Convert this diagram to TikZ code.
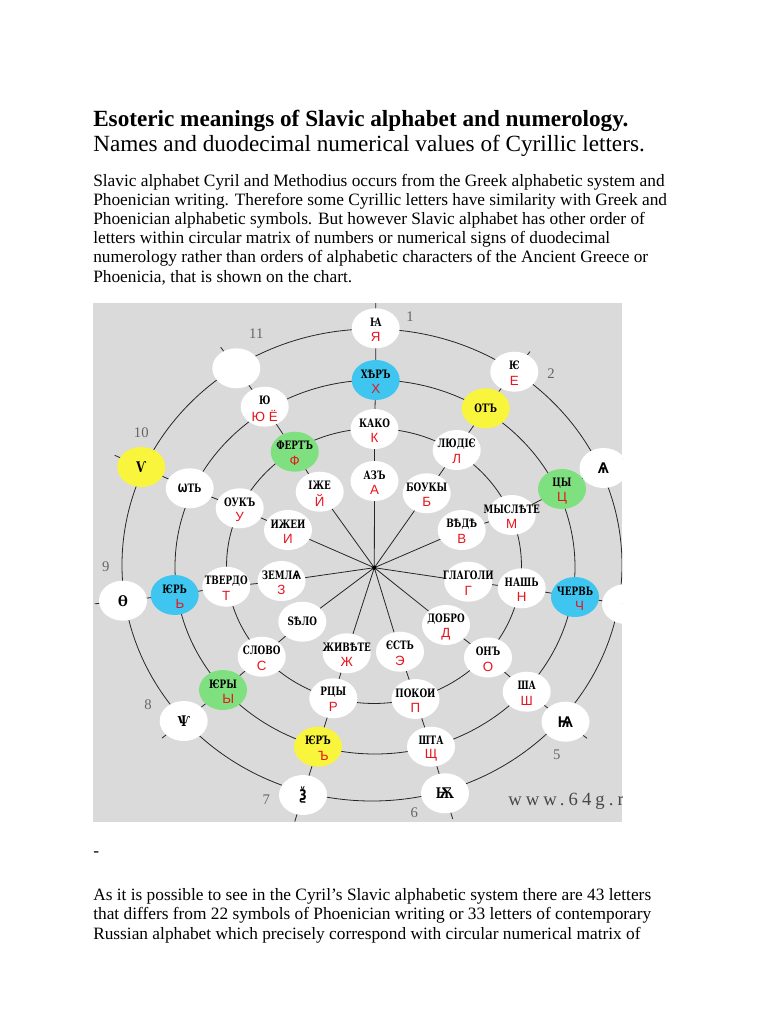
\documentclass[tikz,border=0pt]{standalone}
\usepackage{fontspec}
\setmainfont{Liberation Serif}
\newfontfamily\slavfont[FakeStretch=0.76]{DejaVu Serif}
\newfontfamily\slavsans[FakeStretch=0.76]{DejaVu Sans}
\newfontfamily\redfont{Liberation Sans}
\newfontfamily\wwwfont[LetterSpace=22]{Liberation Serif}
\newcommand\sansglyph[1]{{\slavsans\bfseries #1}}
\usetikzlibrary{calc,shapes.geometric}
\definecolor{chartbg}{HTML}{DADADA}
\definecolor{nblue}{HTML}{3EC6F0}
\definecolor{ngreen}{HTML}{7FE07F}
\definecolor{nyellow}{HTML}{F9F53C}
\definecolor{lred}{HTML}{E8141C}
\definecolor{numgray}{HTML}{666666}
\pgfdeclarelayer{bgl}
\pgfdeclarelayer{lines}
\pgfsetlayers{bgl,lines,main}
\tikzset{
  lnode/.style={ellipse, minimum width=36pt, minimum height=30pt, inner sep=0pt, fill=white},
  wn/.style={fill=white},
  bn/.style={fill=nblue},
  gn/.style={fill=ngreen},
  yn/.style={fill=nyellow},
  toptext/.style={inner sep=0pt, font=\slavfont\bfseries\fontsize{8.7}{9}\selectfont},
  bigglyph/.style={inner sep=0pt, font=\slavfont\bfseries\fontsize{11}{12}\selectfont},
  redtext/.style={inner sep=0pt, text=lred, font=\redfont\fontsize{10}{11}\selectfont},
  numlabel/.style={inner sep=0pt, text=numgray, font=\fontsize{11}{12}\selectfont},
  ln/.style={line width=0.6pt, black!85},
  bodytext/.style={anchor=base west, inner sep=0pt, font=\fontsize{13}{15}\selectfont},
  titletext/.style={anchor=base west, inner sep=0pt, font=\fontsize{17.4}{21}\selectfont},
}
\newcommand\LN[6][0pt]{%
  \node[lnode,#4] (#2) at (#3) {};
  \node[toptext] (#2-t) at ([yshift=4.5pt]#2.center) {#5};
  \node[redtext] (#2-r) at ([yshift=-6.75pt,xshift=#1]#2.center) {#6};}
\newcommand\SN[4]{%
  \node[lnode,#3] (#1) at (#2) {};
  \node[toptext] (#1-t) at (#1.center) {#4};}
\newcommand\GN[4]{%
  \node[lnode,#3] (#1) at (#2) {};
  \node[bigglyph] (#1-t) at (#1.center) {#4};}
\newcommand\chain[4]{\draw[ln] (#1.center) -- (#2.center) -- (#3.center) -- (#4.center) -- ($(#4.center)!-0.55!(#3.center)$);}
\begin{document}
\begin{tikzpicture}[x=0.75pt,y=-0.75pt]
\begin{pgfonlayer}{bgl}
  \fill[white] (0,0) rectangle (768,1024);
  \fill[chartbg] (93,303) rectangle (622,822);
\end{pgfonlayer}
\useasboundingbox (0,0) rectangle (768,1024);

% header text
\node[titletext, font=\bfseries\fontsize{17.4}{21}\selectfont] (title1) at (93,127) {Esoteric meanings of Slavic alphabet and numerology.};
\node[titletext] (title2) at (93,151) {Names and duodecimal numerical values of Cyrillic letters.};
\node[bodytext] (p1) at (93,186) {Slavic alphabet Cyril and Methodius occurs from the Greek alphabetic system and};
\node[bodytext] (p2) at (93,205.2) {Phoenician writing. Therefore some Cyrillic letters have similarity with Greek and};
\node[bodytext] (p3) at (93,224.4) {Phoenician alphabetic symbols. But however Slavic alphabet has other order of};
\node[bodytext] (p4) at (93,243.6) {letters within circular matrix of numbers or numerical signs of duodecimal};
\node[bodytext] (p5) at (93,262.8) {numerology rather than orders of alphabetic characters of the Ancient Greece or};
\node[bodytext] (p6) at (93,282) {Phoenicia, that is shown on the chart.};

% footer text
\node[bodytext] (dash) at (93,856) {-};
\node[bodytext] (q1) at (93,900) {As it is possible to see in the Cyril's Slavic alphabetic system there are 43 letters};
\node[bodytext] (q2) at (93,919.5) {that differs from 22 symbols of Phoenician writing or 33 letters of contemporary};
\node[bodytext] (q3) at (93,939) {Russian alphabet which precisely correspond with circular numerical matrix of};

\begin{scope}
\clip (93,303) rectangle (622,822);
\node[circle, fill=black, inner sep=0pt, minimum size=3.2pt] (cdot) at (374.3,567.7) {};
% ring 1
\LN{nA}{374.5,481}{wn}{АЗЪ}{А}
\LN{nB}{426.7,493.3}{wn}{БОУКЫ}{Б}
\LN{nV}{461.7,530}{wn}{ВѢДѢ}{В}
\LN{nG}{468.3,581.7}{wn}{ГЛАГОЛИ}{Г}
\LN{nD}{446,625}{wn}{ДОБРО}{Д}
\LN{nEe}{400,651.7}{wn}{ЄСТЬ}{Э}
\LN{nZh}{346.7,653.3}{wn}{ЖИВѢТЕ}{Ж}
\SN{nDz}{302.3,621.7}{wn}{ЅѢЛО}
\LN{nZ}{281.5,581}{wn}{ЗЕМЛ\sansglyph{Ѧ}}{З}
\LN{nI}{288,530}{wn}{ИЖЕИ}{И}
\LN{nJ}{319.7,491.7}{wn}{ІЖЕ}{Й}
% ring 2
\LN{nK}{374.5,429}{wn}{КАКО}{К}
\LN{nL}{456.7,450}{wn}{ЛЮДІЄ}{Л}
\LN{nM}{511.7,515}{wn}{МЫСЛѢТЕ}{М}
\LN{nN}{521.7,588.3}{wn}{НАШЬ}{Н}
\LN{nO}{488,657.5}{wn}{ОНЪ}{О}
\LN{nP}{415.5,699}{wn}{ПОКОИ}{П}
\LN{nR}{333.3,698.3}{wn}{РЦЫ}{Р}
\LN{nS}{261.7,656.7}{wn}{СЛОВО}{С}
\LN{nT}{226.3,586.7}{wn}{ТВЕРДО}{Т}
\LN{nU}{239.7,508.3}{wn}{ОУКЪ}{У}
\LN{nF}{294.7,451.7}{gn}{ФЕРТЪ}{Ф}
% ring 3
\LN{nH}{375.7,380}{bn}{ХѢРЪ}{Х}
\SN{nOt}{485.7,408.3}{yn}{ОТЪ}
\LN{nC}{562,489}{gn}{ЦЫ}{Ц}
\LN[3.5pt]{nCh}{575,597}{bn}{ЧЕРВЬ}{Ч}
\LN{nSh}{526.7,691.7}{wn}{ША}{Ш}
\LN{nShch}{431,746.7}{wn}{ШТА}{Щ}
\LN[4pt]{nHard}{318,746.7}{yn}{ѤРЪ}{Ъ}
\LN[4pt]{nYery}{223,690}{gn}{ѤРЫ}{Ы}
\LN[4pt]{nSoft}{174.7,595}{bn}{ѤРЬ}{Ь}
\SN{nOmega}{189.7,488.3}{wn}{\sansglyph{Ѡ}ТЬ}
\LN{nYu}{264.7,406.7}{wn}{Ю}{Ю Ё}
% ring 4
\LN{nYa}{375.7,328.3}{wn}{Ꙗ}{Я}
\LN{nYe}{514.3,371.7}{wn}{Ѥ}{Е}
\GN{nYus}{603.5,468}{wn}{\sansglyph{Ѧ}}
\GN{nCut}{626,604}{wn}{}
\GN{nYusI}{565.5,721.7}{wn}{\sansglyph{Ѩ}}
\GN{nYusB}{445,793.3}{wn}{Ѭ}
\GN{nKsi}{303,795}{wn}{\sansglyph{Ѯ}}
\GN{nPsi}{183.7,721}{wn}{Ѱ}
\GN{nFita}{123,600.7}{wn}{Ѳ}
\GN{nIzh}{141.3,467}{yn}{Ѵ}
\GN{nBlank}{236.3,368.3}{wn}{}
% numbers
\node[numlabel] (num1) at (410,316.7) {1};
\node[numlabel] (num2) at (551,374) {2};
\node[numlabel] (num5) at (556.7,755) {5};
\node[numlabel] (num6) at (414.3,812.7) {6};
\node[numlabel] (num7) at (266.3,800) {7};
\node[numlabel] (num8) at (148,705) {8};
\node[numlabel] (num9) at (105.7,566.7) {9};
\node[numlabel] (num10) at (141.3,432.7) {10};
\node[numlabel] (num11) at (256.3,333.3) {11};
% watermark
\node[anchor=base west, inner sep=0pt, text=black!72, font=\wwwfont\fontsize{14}{15}\selectfont] (www) at (508,805) {www.64g.ru};
\end{scope}

\begin{pgfonlayer}{lines}
\begin{scope}
\clip (93,303) rectangle (622,822);
\draw[ln] (374,566) ellipse [x radius=110.6pt, y radius=103.1pt];
\draw[ln] (375,567) ellipse [x radius=150pt, y radius=140.25pt];
\draw[ln] (372,565) ellipse [x radius=187.5pt, y radius=177pt];
\foreach \n in {nA,nB,nV,nG,nD,nEe,nZh,nDz,nZ,nI,nJ} \draw[ln] (cdot.center) -- (\n.center);
\chain{nA}{nK}{nH}{nYa}
\chain{nB}{nL}{nOt}{nYe}
\chain{nV}{nM}{nC}{nYus}
\chain{nG}{nN}{nCh}{nCut}
\chain{nD}{nO}{nSh}{nYusI}
\chain{nEe}{nP}{nShch}{nYusB}
\chain{nZh}{nR}{nHard}{nKsi}
\chain{nDz}{nS}{nYery}{nPsi}
\chain{nZ}{nT}{nSoft}{nFita}
\chain{nI}{nU}{nOmega}{nIzh}
\chain{nJ}{nF}{nYu}{nBlank}
\end{scope}
\end{pgfonlayer}
\end{tikzpicture}
\end{document}
